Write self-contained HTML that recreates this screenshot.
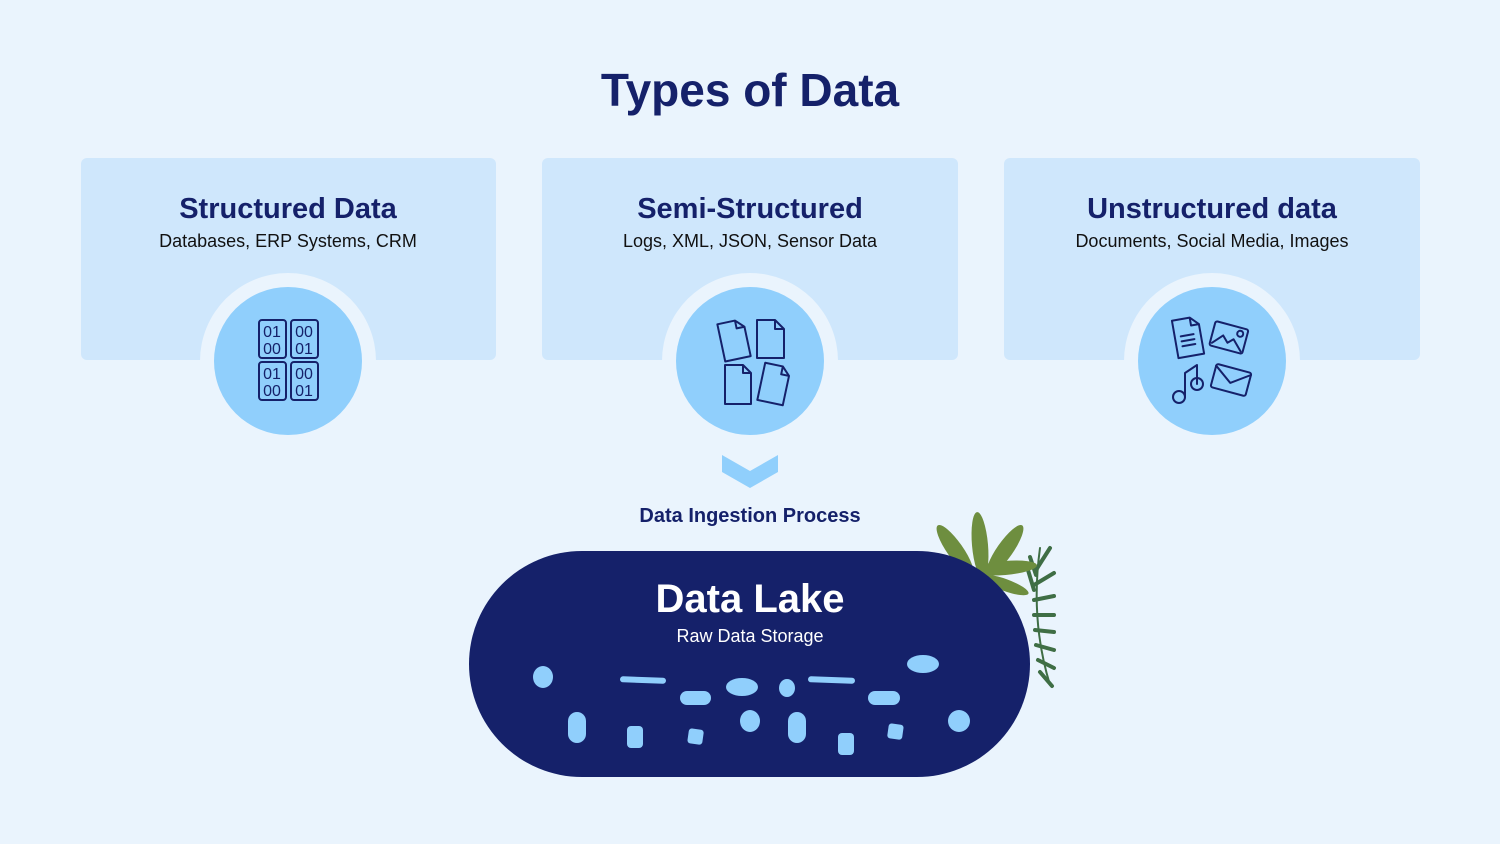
<!DOCTYPE html>
<html><head><meta charset="utf-8"><style>
html,body{margin:0;padding:0;background:#EAF4FD;}
body{width:1500px;height:844px;position:relative;overflow:hidden;font-family:"Liberation Sans",sans-serif;}
svg{position:absolute;left:0;top:0}
</style></head><body>
<svg width="1500" height="844" viewBox="0 0 1500 844" xmlns="http://www.w3.org/2000/svg">
<rect width="1500" height="844" fill="#EAF4FD"/>
<text x="750" y="106" text-anchor="middle" font-family="Liberation Sans" font-weight="bold" font-size="46" fill="#15216A">Types of Data</text>
<g fill="#CFE7FC">
<rect x="81" y="158" width="415" height="202" rx="6"/>
<rect x="542" y="158" width="416" height="202" rx="6"/>
<rect x="1004" y="158" width="416" height="202" rx="6"/>
</g>
<g fill="#EAF4FD">
<circle cx="288" cy="361" r="88"/><circle cx="750" cy="361" r="88"/><circle cx="1212" cy="361" r="88"/>
<rect x="81" y="360" width="1400" height="100"/>
</g>
<g fill="#90CFFC">
<circle cx="288" cy="361" r="74"/><circle cx="750" cy="361" r="74"/><circle cx="1212" cy="361" r="74"/>
</g>
<g font-family="Liberation Sans" text-anchor="middle" fill="#15216A">
<text x="288" y="218" font-size="29" font-weight="bold">Structured Data</text>
<text x="288" y="247" font-size="18" fill="#111">Databases, ERP Systems, CRM</text>
<text x="750" y="218" font-size="29" font-weight="bold">Semi-Structured</text>
<text x="750" y="247" font-size="18" fill="#111">Logs, XML, JSON, Sensor Data</text>
<text x="1212" y="218" font-size="29" font-weight="bold">Unstructured data</text>
<text x="1212" y="247" font-size="18" fill="#111">Documents, Social Media, Images</text>
<text x="750" y="522" font-size="20" font-weight="bold">Data Ingestion Process</text>
</g>
<g fill="none" stroke="#15216A" stroke-width="2">
<rect x="259" y="320" width="27" height="38" rx="3"/><rect x="291" y="320" width="27" height="38" rx="3"/>
<rect x="259" y="362" width="27" height="38" rx="3"/><rect x="291" y="362" width="27" height="38" rx="3"/>
</g>
<g font-family="Liberation Sans" font-size="16" fill="#15216A" text-anchor="middle">
<text x="272" y="337">01</text><text x="272" y="354">00</text>
<text x="304" y="337">00</text><text x="304" y="354">01</text>
<text x="272" y="379">01</text><text x="272" y="396">00</text>
<text x="304" y="379">00</text><text x="304" y="396">01</text>
</g>
<g fill="none" stroke="#15216A" stroke-width="2" stroke-linejoin="round">
<g transform="rotate(-12 735 340)"><path d="M721 321h18l8 8v30h-26z M739 321v8h8"/></g>
<path d="M757 320h18l9 9v29h-27z M775 320v9h9"/>
<path d="M725 365h18l8 8v31h-26z M743 365v8h8"/>
<g transform="rotate(12 774 384)"><path d="M761 365h18l8 8v30h-26z M779 365v8h8"/></g>
</g>
<g fill="none" stroke="#15216A" stroke-width="2" stroke-linejoin="round" stroke-linecap="round">
<g transform="rotate(-10 1189 337)"><path d="M1175 318h18l8 8v30h-26z M1193 318v8h8 M1181 335h13 M1181 340h13 M1181 345h13"/></g>
<g transform="rotate(15 1229 337)"><rect x="1212" y="325" width="34" height="25" rx="2"/><path d="M1214 347l9-10 6 6 5-5 10 10"/><circle cx="1239" cy="331" r="3"/></g>
<circle cx="1179" cy="397" r="6"/><circle cx="1197" cy="384" r="6"/><path d="M1185 397v-24l12-8v19"/>
<g transform="rotate(15 1231 380)"><rect x="1213" y="368" width="36" height="24" rx="2"/><path d="M1213 370l18 13 18-13"/></g>
</g>
<path d="M722 455l28 16 28-16v17l-28 16-28-16z" fill="#90CFFC"/>
<g stroke="#3F6E45" stroke-linecap="round" fill="none">
<path d="M1040 548 Q1030 620 1050 685" stroke-width="2"/>
<g stroke-width="4">
<path d="M1036 570l14-22 M1034 585l20-12 M1034 600l20-4 M1034 615l20 0 M1035 630l19 2 M1036 645l18 5 M1038 660l16 8 M1040 672l12 14 M1036 575l-6-18 M1034 590l-6-20"/>
</g>
</g>
<g fill="#6E8E3F">
<ellipse cx="980" cy="545" rx="8" ry="33" transform="rotate(-5 980 545)"/>
<ellipse cx="955" cy="550" rx="8" ry="30" transform="rotate(-35 955 550)"/>
<ellipse cx="1005" cy="550" rx="8" ry="30" transform="rotate(35 1005 550)"/>
<ellipse cx="1005" cy="568" rx="7" ry="32" transform="rotate(85 1005 568)"/>
<ellipse cx="1005" cy="585" rx="6" ry="25" transform="rotate(110 1005 585)"/>
</g>
<rect x="469" y="551" width="561" height="226" rx="113" fill="#15216A"/>
<text x="750" y="612" text-anchor="middle" font-family="Liberation Sans" font-weight="bold" font-size="40" fill="#fff">Data Lake</text>
<text x="750" y="642" text-anchor="middle" font-family="Liberation Sans" font-size="18" fill="#fff">Raw Data Storage</text>
<g fill="#90CFFC">
<ellipse cx="543" cy="677" rx="10" ry="11"/>
<rect x="620" y="677" width="46" height="6" rx="3" transform="rotate(2 643 680)"/>
<rect x="680" y="691" width="31" height="14" rx="7"/>
<ellipse cx="742" cy="687" rx="16" ry="9"/>
<ellipse cx="787" cy="688" rx="8" ry="9"/>
<rect x="808" y="677" width="47" height="6" rx="3" transform="rotate(2 831 680)"/>
<rect x="868" y="691" width="32" height="14" rx="7"/>
<ellipse cx="923" cy="664" rx="16" ry="9"/>
<rect x="568" y="712" width="18" height="31" rx="9"/>
<rect x="627" y="726" width="16" height="22" rx="4"/>
<rect x="688" y="729" width="15" height="15" rx="3" transform="rotate(8 695 737)"/>
<ellipse cx="750" cy="721" rx="10" ry="11"/>
<rect x="788" y="712" width="18" height="31" rx="9"/>
<rect x="838" y="733" width="16" height="22" rx="4"/>
<rect x="888" y="724" width="15" height="15" rx="3" transform="rotate(8 895 731)"/>
<ellipse cx="959" cy="721" rx="11" ry="11"/>
</g>
</svg>
</body></html>
